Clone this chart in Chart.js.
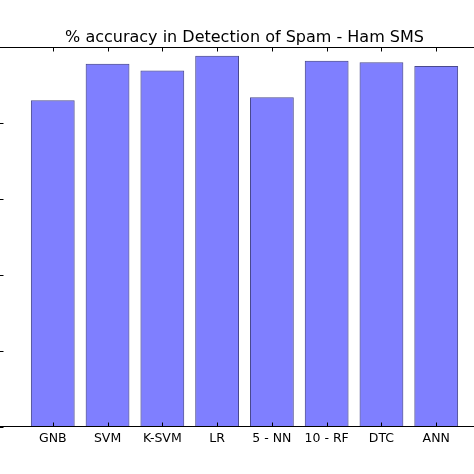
<!DOCTYPE html>
<html>
<head>
<meta charset="utf-8">
<script src="https://cdn.jsdelivr.net/npm/chart.js@4/dist/chart.umd.min.js"></script>
<style>
  html, body { margin: 0; padding: 0; background: #fff; }
  #wrap { position: relative; width: 474px; height: 474px; overflow: hidden; }
  #chart { position: absolute; left: -52px; top: 0; }
</style>
</head>
<body>
<div id="wrap"><canvas id="chart" width="555" height="474"></canvas></div>
<script>
const categories = ['GNB', 'SVM', 'K-SVM', 'LR', '5 - NN', '10 - RF', 'DTC', 'ANN'];
const accuracy = [86.0, 95.6, 93.8, 97.7, 86.8, 96.4, 96.0, 95.0];
const yTicks = [0, 20, 40, 60, 80, 100];

const FONT = "'DejaVu Sans', 'Bitstream Vera Sans', sans-serif";

// matplotlib-style frame with inward ticks on all four sides
const framePlugin = {
  id: 'frame',
  afterDraw(chart) {
    const { ctx, chartArea: a, scales } = chart;
    const L = Math.round(a.left) + 0.5, R = Math.round(a.right) - 0.5;
    const T = Math.round(a.top) + 0.5, B = Math.round(a.bottom) - 0.5;
    ctx.save();
    ctx.strokeStyle = '#000';
    ctx.lineWidth = 1;
    ctx.strokeRect(L, T, R - L, B - T);
    ctx.beginPath();
    categories.forEach((c, i) => {
      const x = Math.round(scales.x.getPixelForValue(i)) + 0.5;
      ctx.moveTo(x, T); ctx.lineTo(x, T + 4);
      ctx.moveTo(x, B); ctx.lineTo(x, B - 4);
    });
    yTicks.forEach(v => {
      const y = Math.round(scales.y.getPixelForValue(v)) + 0.5;
      ctx.moveTo(L, y); ctx.lineTo(L + 5, y);
      ctx.moveTo(R, y); ctx.lineTo(R - 5, y);
    });
    ctx.stroke();
    ctx.restore();
  }
};

new Chart(document.getElementById('chart'), {
  type: 'bar',
  data: {
    datasets: [{
      data: accuracy.map((v, i) => ({ x: i, y: v })),
      backgroundColor: 'rgba(0, 0, 255, 0.5)',
      borderColor: '#4a4a8e',
      borderWidth: 1,
      barPercentage: 0.8,
      categoryPercentage: 1.0
    }]
  },
  options: {
    responsive: false,
    animation: false,
    layout: { padding: { left: 0, right: 12, top: 0, bottom: 0 } },
    plugins: {
      legend: { display: false },
      tooltip: { enabled: false },
      title: {
        display: true,
        fullSize: false,
        text: '% accuracy in Detection of Spam - Ham SMS',
        color: '#000',
        font: { family: FONT, size: 16, weight: 'normal', lineHeight: 1 },
        padding: { top: 30, bottom: 1 }
      }
    },
    scales: {
      x: {
        type: 'linear',
        min: -1,
        max: 8,
        offset: false,
        grid: { display: false, drawTicks: false },
        border: { display: false },
        afterFit: s => { s.height = 47; },
        afterBuildTicks: s => { s.ticks = categories.map((c, i) => ({ value: i })); },
        ticks: {
          autoSkip: false,
          maxRotation: 0,
          padding: 4,
          color: '#000',
          font: { family: FONT, size: 12.5 },
          callback: v => categories[v] || ''
        }
      },
      y: {
        min: 0,
        max: 100,
        grid: { display: false, drawTicks: false },
        border: { display: false },
        afterFit: s => { s.width = 50; },
        ticks: {
          stepSize: 20,
          padding: 6,
          color: '#000',
          font: { family: FONT, size: 12.5 }
        }
      }
    }
  },
  plugins: [framePlugin]
});
</script>
</body>
</html>
